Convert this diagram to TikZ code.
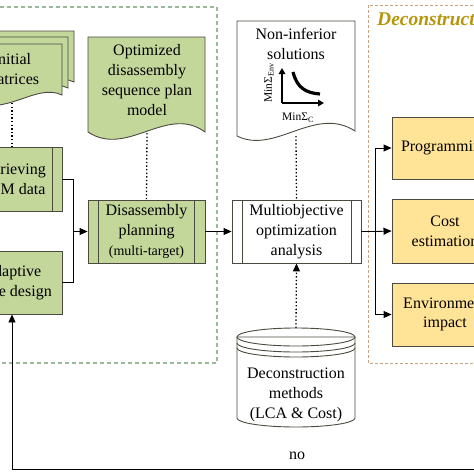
\documentclass[tikz,border=0pt]{standalone}
\usepackage{fontspec}
\setmainfont{Liberation Serif}
\usetikzlibrary{arrows.meta}
\definecolor{gfill}{HTML}{C4D79B}
\definecolor{ofill}{HTML}{FFE397}
\definecolor{bline}{HTML}{4A4A40}
\definecolor{gframe}{HTML}{9BBA9B}
\definecolor{oframe}{HTML}{C9A27E}
\definecolor{titlec}{HTML}{B5960A}
\begin{document}
\begin{tikzpicture}[x=1pt,y=-1pt,
  txt/.style={font=\fontsize{16}{19.7}\selectfont, align=center, inner sep=0pt},
  box/.style={txt, draw=bline, line width=0.9pt, minimum height=63pt},
  gbox/.style={box, fill=gfill},
  obox/.style={box, fill=ofill},
  wbox/.style={box, fill=white},
  shapeline/.style={draw=bline, line width=0.9pt},
  conn/.style={line width=0.9pt, black},
  arr/.style={conn, -{Triangle[length=8pt,width=7pt]}},
  dots/.style={line width=1.3pt, black, dash pattern=on 1.4pt off 2.2pt},
  dotarr/.style={dots, -{Triangle[length=8pt,width=7pt]}},
]
\useasboundingbox (0,0) rectangle (474,474);
\clip (0,0) rectangle (474,474);
\fill[white] (0,0) rectangle (474,474);

% frames
\draw[gframe, line width=1.1pt, dash pattern=on 4pt off 3pt] (-20,7) rectangle (217,363);
\draw[oframe, line width=0.9pt, dash pattern=on 3pt off 2pt] (368,5) rectangle (490,363);
\node[anchor=west, font=\fontsize{19.5}{22}\selectfont\bfseries\itshape, text=titlec, inner sep=0pt] (title) at (377,19) {Deconstruction evaluation};

% initial matrices (stacked documents)
\def\initdoc{(-38,44) -- (62,44) -- (62,95) .. controls (35,82) and (5,120) .. (-38,100) -- cycle}
\begin{scope}[shift={(12,-13)}]
  \filldraw[shapeline, fill=gfill] \initdoc;
\end{scope}
\begin{scope}[shift={(6,-7)}]
  \filldraw[shapeline, fill=gfill] \initdoc;
\end{scope}
\filldraw[shapeline, fill=gfill] \initdoc;
\node[txt] (init) at (12,69) {Initial\\matrices};
\coordinate (initb) at (12,103);

% optimized sequence plan model (document)
\filldraw[shapeline, fill=gfill] (88,37) -- (205,37) -- (205,132) .. controls (167,104) and (127,158) .. (88,132) -- cycle;
\node[txt] (optim) at (147,80) {Optimized\\disassembly\\sequence plan\\model};
\coordinate (optimb) at (147,133);

% non-inferior solutions (document)
\filldraw[shapeline, fill=white] (237,21) -- (355,21) -- (355,131) .. controls (315,105) and (275,155) .. (237,136) -- cycle;
\node[txt] (noninf) at (296,44) {Non-inferior\\solutions};
\coordinate (noninfb) at (296,136);
\coordinate (axo) at (282,103);
\coordinate (axy) at (282,68);
\coordinate (axx) at (324,103);
\draw[line width=2.2pt, -{Triangle[length=6pt,width=6.5pt]}] (axo) -- (axy);
\draw[line width=2.2pt, -{Triangle[length=6pt,width=6.5pt]}] (axo) -- (axx);
\draw[line width=3.2pt] (293,72) .. controls (297,88) and (306,93) .. (320,94);
\node[rotate=90, inner sep=0pt, font=\fontsize{11.5}{12}\selectfont] (ylab) at (269,83) {MinΣ\textsubscript{Env}};
\node[inner sep=0pt, font=\fontsize{11.5}{12}\selectfont] (xlab) at (298,118) {MinΣ\textsubscript{C}};

% process boxes
\node[gbox, minimum width=100pt, minimum height=64pt] (retr) at (12,179) {Retrieving\\BOM data};
\draw[shapeline] ([xshift=-10]retr.north east) -- ([xshift=-10]retr.south east);
\draw[shapeline] ([xshift=10]retr.north west) -- ([xshift=10]retr.south west);

\node[gbox, minimum width=100pt] (adapt) at (12,282.5) {Adaptive\\reuse design};

\node[gbox, minimum width=117pt] (plan) at (146.5,231.5) {Disassembly\\planning\\{\fontsize{14}{19.7}\selectfont (multi-target)}};
\draw[shapeline] ([xshift=11]plan.north west) -- ([xshift=11]plan.south west);
\draw[shapeline] ([xshift=-11]plan.north east) -- ([xshift=-11]plan.south east);

\node[wbox, minimum width=129pt] (multi) at (296.5,231.5) {Multiobjective\\optimization\\analysis};
\draw[shapeline] ([xshift=10.5]multi.north west) -- ([xshift=10.5]multi.south west);
\draw[shapeline] ([xshift=-10.5]multi.north east) -- ([xshift=-10.5]multi.south east);

\node[obox, minimum width=106pt, minimum height=62pt] (prog) at (445,148) {Programming};
\node[obox, minimum width=106pt, minimum height=64pt] (cost) at (445,231) {Cost\\estimation};
\node[obox, minimum width=106pt] (env) at (445,314.5) {Environment\\impact};

% cylinder
\filldraw[shapeline, fill=white] (237,337) -- (237,418) arc[start angle=180, end angle=0, x radius=59, y radius=9] -- (355,337) -- cycle;
\draw[shapeline] (296,337) ellipse [x radius=59, y radius=9];
\draw[shapeline] (237,343) arc[start angle=180, end angle=0, x radius=59, y radius=9];
\draw[shapeline] (237,348) arc[start angle=180, end angle=0, x radius=59, y radius=9];
\node[txt] (cyl) at (296,395) {Deconstruction\\methods\\(LCA \& Cost)};
\coordinate (cyltop) at (296,328);

% connectors
\coordinate (jl) at (73,231.5);
\coordinate (jr) at (375,231.5);
\draw[conn] (retr.east) -| (jl);
\draw[conn] (adapt.east) -| (jl);
\draw[arr] (jl) -- (plan.west);
\draw[arr] (plan.east) -- (multi.west);
\draw[conn] (multi.east) -- (jr);
\draw[arr] (jr) |- (prog.west);
\draw[arr] (jr) -- (cost.west);
\draw[arr] (jr) |- (env.west);
\draw[dots] (initb) -- (retr.north);
\draw[dots] (optimb) -- (plan.north);
\draw[dots] (noninfb) -- (multi.north);
\draw[dotarr] (cyltop) -- (multi.south);
\coordinate (fbr) at (490,469);
\draw[arr] (fbr) -| (adapt.south);
\node[txt] (no) at (297,456) {no};
\end{tikzpicture}
\end{document}
